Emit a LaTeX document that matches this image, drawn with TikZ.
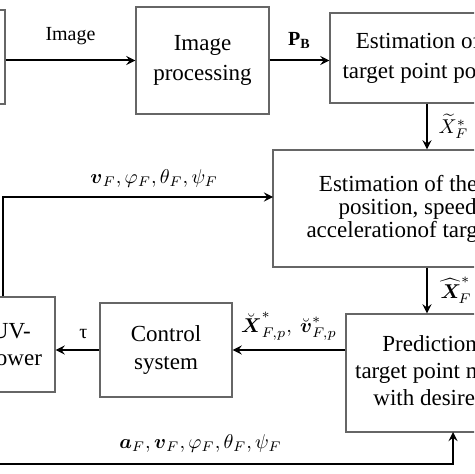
\documentclass[tikz,border=0pt]{standalone}
\usepackage{amsmath}
\usepackage{amssymb}
\usepackage{fontspec}
\setmainfont{Liberation Serif}
\usetikzlibrary{arrows}

\newcommand{\boxfont}[1]{\fontsize{11.5}{#1}\selectfont}

\begin{document}
\begin{tikzpicture}[x=0.5pt, y=-0.5pt,
      block/.style={draw=black!60, line width=0.65pt, inner sep=0pt,
          align=center},
      signal/.style={-stealth, line width=1pt},
      label text/.style={font=\fontsize{10}{12}\selectfont}]
    \clip (0,0) rectangle (474,474);
    \useasboundingbox (0,0) rectangle (474,474);
    % blocks
    \node[block, minimum width=55pt, minimum height=47pt] (cam) at (-50,57) {};
    \node[block, minimum width=66.5pt, minimum height=53.5pt,
      font=\boxfont{15}] (proc) at (202.5,60.5) {Image\\processing};
    \node[block, minimum width=105pt, minimum height=45pt,
      font=\boxfont{15}] (est) at (435,58)
      {Estimation of the\\target point position};
    \node[block, minimum width=154pt, minimum height=58.5pt,
      font=\boxfont{11.5}] (mid) at (427,208.5)
      {Estimation of the target\\position, speed and\\accelerationof target point};
    \node[block, minimum width=52pt, minimum height=47.5pt,
      font=\boxfont{13.5}] (uuv) at (3,344.5) {UUV-\\follower};
    \node[block, minimum width=66pt, minimum height=47pt,
      font=\boxfont{14}] (ctrl) at (166,350) {Control\\system};
    \node[block, minimum width=113pt, minimum height=59pt,
      font=\boxfont{13.5}] (pred) at (459,373)
      {Prediction of the\\target point movement\\with desired speed};
    \coordinate (mid in) at (273,197);
    \coordinate (fb start) at (-20,464);
    \coordinate (fb end) at (453,432);
    % signals
    \path[signal]
    (cam.east |- proc.west) edge node[label text, above=4pt] {Image} (proc)
    (proc) edge node[above=2pt] {$\mathbf{P}_{\mathbf{B}}$} (proc -| est.west)
    (est.south -| mid.north) edge node[right=2pt] {$\widetilde{X}_F^{*}$} (mid.north)
    (mid.south) edge node[right=3pt]
      {$\widehat{\boldsymbol{X}}_{\!F}^{*}$} (mid.south |- pred.north)
    (ctrl.east -| pred.west) edge node[above=1pt]
      {$\breve{\boldsymbol{X}}_{F,p}^{*},\ \breve{\boldsymbol{v}}_{F,p}^{*}$} (ctrl.east)
    (ctrl.west) edge node[label text, above=2pt, xshift=3pt] {τ} (ctrl.west -| uuv.east);
    \draw[signal] (uuv.north) |- node[pos=0.78, above=1pt]
      {$\boldsymbol{v}_F, \varphi_F, \theta_F, \psi_F$} (mid in);
    \draw[signal] (fb start) -| node[pos=0.233, above=2pt]
      {$\boldsymbol{a}_F, \boldsymbol{v}_F, \varphi_F, \theta_F, \psi_F$} (fb end);
  \end{tikzpicture}
\end{document}
